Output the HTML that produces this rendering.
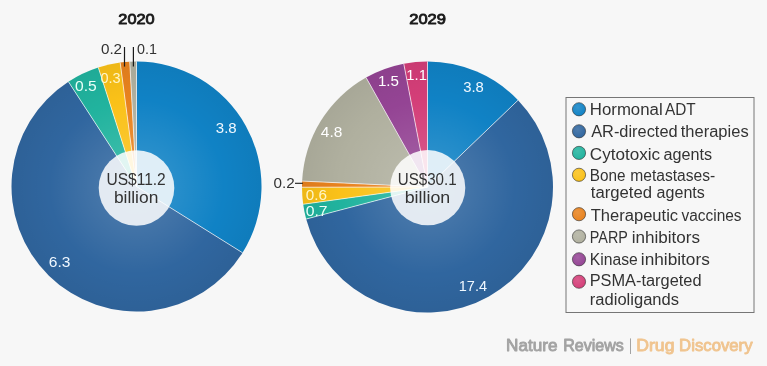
<!DOCTYPE html>
<html><head><meta charset="utf-8"><style>
html,body{margin:0;padding:0;background:#f7f7f7;}
body{width:767px;height:366px;overflow:hidden;}
svg{display:block;will-change:transform;font-family:"Liberation Sans",sans-serif;}
</style></head><body>
<svg width="767" height="366" viewBox="0 0 767 366">
<rect width="767" height="366" fill="#f7f7f7"/>
<defs>
<radialGradient id="g1" cx="136.5" cy="186.5" r="125" gradientUnits="userSpaceOnUse">
<stop offset="0" stop-color="#fff" stop-opacity="0.13"/>
<stop offset="0.3" stop-color="#fff" stop-opacity="0.10"/>
<stop offset="0.7" stop-color="#fff" stop-opacity="0.0"/>
<stop offset="0.7" stop-color="#000" stop-opacity="0.0"/>
<stop offset="1" stop-color="#000" stop-opacity="0.05"/>
</radialGradient>
<radialGradient id="g2" cx="427.5" cy="187" r="125.5" gradientUnits="userSpaceOnUse">
<stop offset="0" stop-color="#fff" stop-opacity="0.13"/>
<stop offset="0.3" stop-color="#fff" stop-opacity="0.10"/>
<stop offset="0.7" stop-color="#fff" stop-opacity="0.0"/>
<stop offset="0.7" stop-color="#000" stop-opacity="0.0"/>
<stop offset="1" stop-color="#000" stop-opacity="0.05"/>
</radialGradient>
<radialGradient id="lg" cx="0.4" cy="0.35" r="0.7">
<stop offset="0" stop-color="#fff" stop-opacity="0.15"/>
<stop offset="1" stop-color="#fff" stop-opacity="0"/>
</radialGradient>
</defs>
<path d="M136.50,186.50 L136.50,61.50 A125,125 0 0 1 242.51,252.74 Z" fill="#1082c5"/>
<path d="M136.50,186.50 L242.51,252.74 A125,125 0 1 1 68.42,81.67 Z" fill="#30669f"/>
<path d="M136.50,186.50 L68.42,81.67 A125,125 0 0 1 98.29,67.48 Z" fill="#21b39e"/>
<path d="M136.50,186.50 L98.29,67.48 A125,125 0 0 1 120.18,62.57 Z" fill="#fac118"/>
<path d="M136.50,186.50 L120.18,62.57 A125,125 0 0 1 129.74,61.68 Z" fill="#e8821e"/>
<path d="M136.50,186.50 L129.74,61.68 A125,125 0 0 1 136.50,61.50 Z" fill="#b0b09f"/>
<circle cx="136.5" cy="186.5" r="125" fill="url(#g1)"/>
<line x1="136.5" y1="186.5" x2="136.50" y2="61.50" stroke="#ffffff" stroke-opacity="0.65" stroke-width="1"/>
<line x1="136.5" y1="186.5" x2="242.51" y2="252.74" stroke="#ffffff" stroke-opacity="0.65" stroke-width="1"/>
<line x1="136.5" y1="186.5" x2="68.42" y2="81.67" stroke="#ffffff" stroke-opacity="0.65" stroke-width="1"/>
<line x1="136.5" y1="186.5" x2="98.29" y2="67.48" stroke="#ffffff" stroke-opacity="0.65" stroke-width="1"/>
<line x1="136.5" y1="186.5" x2="120.18" y2="62.57" stroke="#ffffff" stroke-opacity="0.65" stroke-width="1"/>
<line x1="136.5" y1="186.5" x2="129.74" y2="61.68" stroke="#ffffff" stroke-opacity="0.65" stroke-width="1"/>
<path d="M427.50,187.00 L427.50,61.50 A125.5,125.5 0 0 1 518.08,100.14 Z" fill="#1082c5"/>
<path d="M427.50,187.00 L518.08,100.14 A125.5,125.5 0 1 1 306.16,219.06 Z" fill="#30669f"/>
<path d="M427.50,187.00 L306.16,219.06 A125.5,125.5 0 0 1 303.19,204.25 Z" fill="#21b39e"/>
<path d="M427.50,187.00 L303.19,204.25 A125.5,125.5 0 0 1 302.00,187.22 Z" fill="#fac118"/>
<path d="M427.50,187.00 L302.00,187.22 A125.5,125.5 0 0 1 302.14,181.09 Z" fill="#e8821e"/>
<path d="M427.50,187.00 L302.14,181.09 A125.5,125.5 0 0 1 366.08,77.56 Z" fill="#b0b09f"/>
<path d="M427.50,187.00 L366.08,77.56 A125.5,125.5 0 0 1 403.77,63.76 Z" fill="#944494"/>
<path d="M427.50,187.00 L403.77,63.76 A125.5,125.5 0 0 1 427.50,61.50 Z" fill="#d43e78"/>
<circle cx="427.5" cy="187" r="125.5" fill="url(#g2)"/>
<line x1="427.5" y1="187" x2="427.50" y2="61.50" stroke="#ffffff" stroke-opacity="0.65" stroke-width="1"/>
<line x1="427.5" y1="187" x2="518.08" y2="100.14" stroke="#ffffff" stroke-opacity="0.65" stroke-width="1"/>
<line x1="427.5" y1="187" x2="306.16" y2="219.06" stroke="#ffffff" stroke-opacity="0.65" stroke-width="1"/>
<line x1="427.5" y1="187" x2="303.19" y2="204.25" stroke="#ffffff" stroke-opacity="0.65" stroke-width="1"/>
<line x1="427.5" y1="187" x2="302.00" y2="187.22" stroke="#ffffff" stroke-opacity="0.65" stroke-width="1"/>
<line x1="427.5" y1="187" x2="302.14" y2="181.09" stroke="#ffffff" stroke-opacity="0.65" stroke-width="1"/>
<line x1="427.5" y1="187" x2="366.08" y2="77.56" stroke="#ffffff" stroke-opacity="0.65" stroke-width="1"/>
<line x1="427.5" y1="187" x2="403.77" y2="63.76" stroke="#ffffff" stroke-opacity="0.65" stroke-width="1"/>
<circle cx="136.5" cy="188" r="37.8" fill="#fff" fill-opacity="0.85"/>
<circle cx="427.7" cy="187.7" r="37.6" fill="#fff" fill-opacity="0.85"/>
<text x="118.32" y="24.0" font-size="15.2" fill="#1a1a1a" font-weight="normal" stroke="#1a1a1a" stroke-width="0.9" stroke-linejoin="round" textLength="36.34" lengthAdjust="spacingAndGlyphs">2020</text>
<text x="409.22" y="24.0" font-size="15.2" fill="#1a1a1a" font-weight="normal" stroke="#1a1a1a" stroke-width="0.9" stroke-linejoin="round" textLength="36.77" lengthAdjust="spacingAndGlyphs">2029</text>
<text x="106.43" y="185.3" font-size="16" fill="#333333" font-weight="normal" textLength="59.32" lengthAdjust="spacingAndGlyphs">US$11.2</text>
<text x="113.92" y="202.5" font-size="16" fill="#333333" font-weight="normal" textLength="44.38" lengthAdjust="spacingAndGlyphs">billion</text>
<text x="397.77" y="185.3" font-size="16" fill="#333333" font-weight="normal" textLength="58.86" lengthAdjust="spacingAndGlyphs">US$30.1</text>
<text x="404.69" y="202.5" font-size="16" fill="#333333" font-weight="normal" textLength="45.54" lengthAdjust="spacingAndGlyphs">billion</text>
<text x="100.91" y="53.6" font-size="15.4" fill="#333333" font-weight="normal" textLength="21.19" lengthAdjust="spacingAndGlyphs">0.2</text>
<text x="137.04" y="53.6" font-size="15.4" fill="#333333" font-weight="normal" textLength="19.91" lengthAdjust="spacingAndGlyphs">0.1</text>
<text x="75.09" y="91.3" font-size="15.4" fill="#eafff8" font-weight="normal" textLength="21.73" lengthAdjust="spacingAndGlyphs">0.5</text>
<text x="100.54" y="82.7" font-size="15.4" fill="#fff6c8" font-weight="normal" textLength="20.13" lengthAdjust="spacingAndGlyphs">0.3</text>
<text x="215.81" y="133" font-size="15.4" fill="#f0f8ff" font-weight="normal" textLength="20.87" lengthAdjust="spacingAndGlyphs">3.8</text>
<text x="48.89" y="266.7" font-size="15.4" fill="#f0f8ff" font-weight="normal" textLength="21.62" lengthAdjust="spacingAndGlyphs">6.3</text>
<text x="463.22" y="91.7" font-size="15.4" fill="#f0f8ff" font-weight="normal" textLength="20.66" lengthAdjust="spacingAndGlyphs">3.8</text>
<text x="458.77" y="290.9" font-size="15.4" fill="#f0f8ff" font-weight="normal" textLength="28.28" lengthAdjust="spacingAndGlyphs">17.4</text>
<text x="320.80" y="136.7" font-size="15.4" fill="#fff" font-weight="normal" textLength="21.51" lengthAdjust="spacingAndGlyphs">4.8</text>
<text x="377.92" y="86.2" font-size="15.4" fill="#fff" font-weight="normal" textLength="21.08" lengthAdjust="spacingAndGlyphs">1.5</text>
<text x="406.35" y="79.5" font-size="15.4" fill="#fff" font-weight="normal" textLength="20.52" lengthAdjust="spacingAndGlyphs">1.1</text>
<text x="273.51" y="187.8" font-size="15.4" fill="#333333" font-weight="normal" textLength="21.19" lengthAdjust="spacingAndGlyphs">0.2</text>
<text x="305.71" y="200.2" font-size="15.4" fill="#fff6c8" font-weight="normal" textLength="21.19" lengthAdjust="spacingAndGlyphs">0.6</text>
<text x="305.69" y="215.8" font-size="15.4" fill="#eafff8" font-weight="normal" textLength="21.94" lengthAdjust="spacingAndGlyphs">0.7</text>
<text x="589.84" y="115.3" font-size="16" fill="#333333" font-weight="normal" textLength="72.78" lengthAdjust="spacingAndGlyphs">Hormonal</text>
<text x="665.00" y="115.3" font-size="16" fill="#333333" font-weight="normal" textLength="30.68" lengthAdjust="spacingAndGlyphs">ADT</text>
<text x="591.20" y="137.1" font-size="16" fill="#333333" font-weight="normal" textLength="86.40" lengthAdjust="spacingAndGlyphs">AR-directed</text>
<text x="680.79" y="137.1" font-size="16" fill="#333333" font-weight="normal" textLength="67.85" lengthAdjust="spacingAndGlyphs">therapies</text>
<text x="589.85" y="159.5" font-size="16" fill="#333333" font-weight="normal" textLength="70.28" lengthAdjust="spacingAndGlyphs">Cytotoxic</text>
<text x="663.59" y="159.5" font-size="16" fill="#333333" font-weight="normal" textLength="48.55" lengthAdjust="spacingAndGlyphs">agents</text>
<text x="589.76" y="181" font-size="16" fill="#333333" font-weight="normal" textLength="35.68" lengthAdjust="spacingAndGlyphs">Bone</text>
<text x="630.33" y="181" font-size="16" fill="#333333" font-weight="normal" textLength="84.89" lengthAdjust="spacingAndGlyphs">metastases-</text>
<text x="590.79" y="198.4" font-size="16" fill="#333333" font-weight="normal" textLength="61.26" lengthAdjust="spacingAndGlyphs">targeted</text>
<text x="656.60" y="198.4" font-size="16" fill="#333333" font-weight="normal" textLength="48.24" lengthAdjust="spacingAndGlyphs">agents</text>
<text x="590.69" y="220.7" font-size="16" fill="#333333" font-weight="normal" textLength="87.42" lengthAdjust="spacingAndGlyphs">Therapeutic</text>
<text x="681.50" y="220.7" font-size="16" fill="#333333" font-weight="normal" textLength="60.03" lengthAdjust="spacingAndGlyphs">vaccines</text>
<text x="589.83" y="242.8" font-size="16" fill="#333333" font-weight="normal" textLength="38.06" lengthAdjust="spacingAndGlyphs">PARP</text>
<text x="631.73" y="242.8" font-size="16" fill="#333333" font-weight="normal" textLength="68.25" lengthAdjust="spacingAndGlyphs">inhibitors</text>
<text x="589.72" y="264.6" font-size="16" fill="#333333" font-weight="normal" textLength="47.98" lengthAdjust="spacingAndGlyphs">Kinase</text>
<text x="640.82" y="264.6" font-size="16" fill="#333333" font-weight="normal" textLength="68.96" lengthAdjust="spacingAndGlyphs">inhibitors</text>
<text x="589.67" y="286.4" font-size="16" fill="#333333" font-weight="normal" textLength="111.83" lengthAdjust="spacingAndGlyphs">PSMA-targeted</text>
<text x="589.86" y="304.6" font-size="16" fill="#333333" font-weight="normal" textLength="89.14" lengthAdjust="spacingAndGlyphs">radioligands</text>
<text x="506.12" y="350.8" font-size="16.5" fill="#a3a3a3" font-weight="normal" stroke="#a3a3a3" stroke-width="0.9" stroke-linejoin="round" textLength="51.37" lengthAdjust="spacingAndGlyphs">Nature</text>
<text x="563.27" y="350.8" font-size="16.5" fill="#a3a3a3" font-weight="normal" stroke="#a3a3a3" stroke-width="0.9" stroke-linejoin="round" textLength="60.52" lengthAdjust="spacingAndGlyphs">Reviews</text>
<text x="636.29" y="350.7" font-size="16.5" fill="#f0c48f" font-weight="normal" stroke="#f0c48f" stroke-width="0.9" stroke-linejoin="round" textLength="38.16" lengthAdjust="spacingAndGlyphs">Drug</text>
<text x="679.14" y="350.7" font-size="16.5" fill="#f0c48f" font-weight="normal" stroke="#f0c48f" stroke-width="0.9" stroke-linejoin="round" textLength="73.44" lengthAdjust="spacingAndGlyphs">Discovery</text>
<line x1="124.5" y1="47" x2="124.5" y2="66.6" stroke="#1a1a1a" stroke-width="1.2"/>
<line x1="133.4" y1="47" x2="133.4" y2="66.6" stroke="#1a1a1a" stroke-width="1.2"/>
<line x1="295" y1="183.3" x2="302.8" y2="183.3" stroke="#1a1a1a" stroke-width="1.1"/>
<rect x="566" y="97.5" width="188" height="215" fill="none" stroke="#767676" stroke-width="1"/>
<circle cx="579" cy="109.3" r="6.6" fill="#1082c5" stroke="#2a2a2a" stroke-opacity="0.6" stroke-width="1"/>
<circle cx="579" cy="109.3" r="6.6" fill="url(#lg)"/>
<circle cx="579" cy="131.3" r="6.6" fill="#30669f" stroke="#2a2a2a" stroke-opacity="0.6" stroke-width="1"/>
<circle cx="579" cy="131.3" r="6.6" fill="url(#lg)"/>
<circle cx="579" cy="152.9" r="6.6" fill="#21b39e" stroke="#2a2a2a" stroke-opacity="0.6" stroke-width="1"/>
<circle cx="579" cy="152.9" r="6.6" fill="url(#lg)"/>
<circle cx="579" cy="174.8" r="6.6" fill="#fac118" stroke="#2a2a2a" stroke-opacity="0.6" stroke-width="1"/>
<circle cx="579" cy="174.8" r="6.6" fill="url(#lg)"/>
<circle cx="579" cy="214.2" r="6.6" fill="#e8821e" stroke="#2a2a2a" stroke-opacity="0.6" stroke-width="1"/>
<circle cx="579" cy="214.2" r="6.6" fill="url(#lg)"/>
<circle cx="579" cy="236.5" r="6.6" fill="#b0b09f" stroke="#2a2a2a" stroke-opacity="0.6" stroke-width="1"/>
<circle cx="579" cy="236.5" r="6.6" fill="url(#lg)"/>
<circle cx="579" cy="259.3" r="6.6" fill="#944494" stroke="#2a2a2a" stroke-opacity="0.6" stroke-width="1"/>
<circle cx="579" cy="259.3" r="6.6" fill="url(#lg)"/>
<circle cx="579" cy="281.7" r="6.6" fill="#d43e78" stroke="#2a2a2a" stroke-opacity="0.6" stroke-width="1"/>
<circle cx="579" cy="281.7" r="6.6" fill="url(#lg)"/>
<line x1="630.5" y1="338.4" x2="630.5" y2="354" stroke="#a3a3a3" stroke-width="1"/>
</svg></body></html>
